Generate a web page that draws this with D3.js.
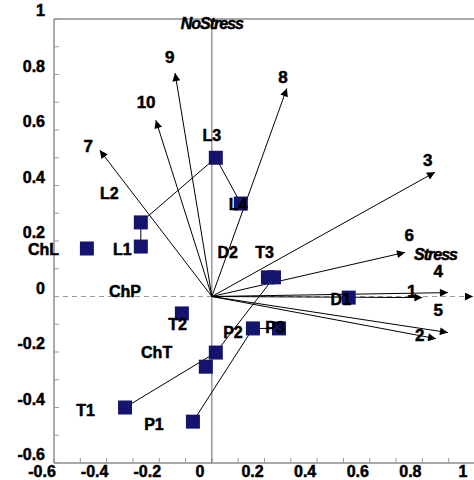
<!DOCTYPE html>
<html><head><meta charset="utf-8">
<script src="https://cdn.jsdelivr.net/npm/d3@7"></script>
<style>body{margin:0;background:#fff}text{font-family:"Liberation Sans",Arial,sans-serif;font-weight:bold;stroke:#000;stroke-width:0.5px}</style>
</head><body><svg id="c" width="474" height="480"></svg>
<script>
// variable vectors (arrows)
var vecNames = ["7","10","9","8","3","6","4","1","5","2"];
var vecX = [-0.426,-0.213,-0.14,0.285,0.848,0.734,0.897,0.80,0.897,0.852];
var vecY = [0.527,0.635,0.805,0.75,0.448,0.159,0.014,-0.004,-0.13,-0.152];
var vecLabX = [-0.47,-0.25,-0.16,0.27,0.82,0.75,0.86,0.76,0.86,0.79];
var vecLabY = [0.52,0.68,0.84,0.77,0.47,0.20,0.07,0.0,-0.07,-0.16];

// sample points
var ptNames = ["L1","L2","L3","L4","ChL","D2","T3","D1","P3","P2","T2","ChT","ChP","T1","P1"];
var ptX = [-0.27,-0.27,0.015,0.11,-0.475,0.213,0.236,0.52,0.255,0.156,-0.114,0.015,-0.023,-0.33,-0.072];
var ptY = [0.18,0.267,0.50,0.335,0.173,0.069,0.069,-0.004,-0.115,-0.115,-0.061,-0.202,-0.253,-0.40,-0.451];
var ptLabX = [-0.34,-0.39,0.00,0.10,-0.64,0.06,0.20,0.49,0.24,0.08,-0.13,-0.21,-0.33,-0.48,-0.22];
var ptLabY = [0.15,0.35,0.56,0.31,0.15,0.14,0.14,-0.03,-0.13,-0.15,-0.12,-0.22,0.0,-0.43,-0.48];

// trajectories (indexes into points)
var paths = [[0,1,2,3],[13,11,6],[14,9,8]];

var xTicks = [-0.6,-0.4,-0.2,0,0.2,0.4,0.6,0.8,1];
var yTicks = [-0.6,-0.4,-0.2,0,0.2,0.4,0.6,0.8,1];

var svg = d3.select("#c");
var x = d3.scaleLinear().domain([-0.6,1]).range([54,475]);
var y = d3.scaleLinear().domain([-0.6,1]).range([463,19]);

svg.append("defs").append("marker").attr("id","ah").attr("viewBox","0 0 10 10")
  .attr("refX",10).attr("refY",5).attr("markerWidth",14).attr("markerHeight",8)
  .attr("markerUnits","userSpaceOnUse").attr("orient","auto")
  .append("path").attr("d","M0,0L10,5L0,10z").attr("fill","#000");

// frame
svg.append("path").attr("d","M"+x(-0.6)+","+y(-0.6)+"V"+y(1)+"H474").attr("fill","none").attr("stroke","#555");
svg.append("line").attr("x1",54).attr("x2",474).attr("y1",y(-0.6)).attr("y2",y(-0.6)).attr("stroke","#555");

// minor ticks
d3.range(-0.6,1.001,0.1).forEach(function(v){
  svg.append("line").attr("x1",x(v)).attr("x2",x(v)).attr("y1",y(-0.6)).attr("y2",y(-0.6)-5).attr("stroke","#999");
  svg.append("line").attr("x1",54).attr("x2",59).attr("y1",y(v)).attr("y2",y(v)).attr("stroke","#999");
});
xTicks.forEach(function(v){
  svg.append("text").attr("x",x(v)-12).attr("y",477).attr("text-anchor","middle").attr("font-size",16).text(v);
});
yTicks.forEach(function(v){
  svg.append("text").attr("x",45).attr("y",y(v)-3).attr("text-anchor","end").attr("font-size",16).text(v);
});

// axes through origin
svg.append("line").attr("x1",x(0)).attr("x2",x(0)).attr("y1",y(1)).attr("y2",y(-0.6)).attr("stroke","#666");
svg.append("line").attr("x1",54).attr("x2",473).attr("y1",y(0)).attr("y2",y(0)).attr("stroke","#999")
  .attr("stroke-dasharray","5,4").attr("marker-end","url(#ah)");
svg.append("text").attr("x",x(0)).attr("y",y(1)+10).attr("text-anchor","middle").attr("font-size",16)
  .attr("font-style","italic").attr("letter-spacing",-1).text("NoStress");
svg.append("text").attr("x",x(0.85)).attr("y",y(0.13)).attr("text-anchor","middle").attr("font-size",16)
  .attr("font-style","italic").attr("letter-spacing",-1).text("Stress");

// trajectories
paths.forEach(function(p){
  svg.append("path").attr("d",d3.line().x(function(i){return x(ptX[i]);}).y(function(i){return y(ptY[i]);})(p))
    .attr("fill","none").attr("stroke","#000").attr("stroke-width",1);
});

// vectors
vecNames.forEach(function(n,i){
  svg.append("line").attr("x1",x(0)).attr("y1",y(0)).attr("x2",x(vecX[i])).attr("y2",y(vecY[i]))
    .attr("stroke","#000").attr("marker-end","url(#ah)");
  svg.append("text").attr("x",x(vecLabX[i])).attr("y",y(vecLabY[i])).attr("text-anchor","middle")
    .attr("font-size",17).text(n);
});

// points
ptNames.forEach(function(n,i){
  svg.append("rect").attr("x",x(ptX[i])-7).attr("y",y(ptY[i])-7).attr("width",14).attr("height",14).attr("fill","#14146e");
  svg.append("text").attr("x",x(ptLabX[i])).attr("y",y(ptLabY[i])).attr("text-anchor","middle")
    .attr("font-size",16).text(n);
});
</script></body></html>
